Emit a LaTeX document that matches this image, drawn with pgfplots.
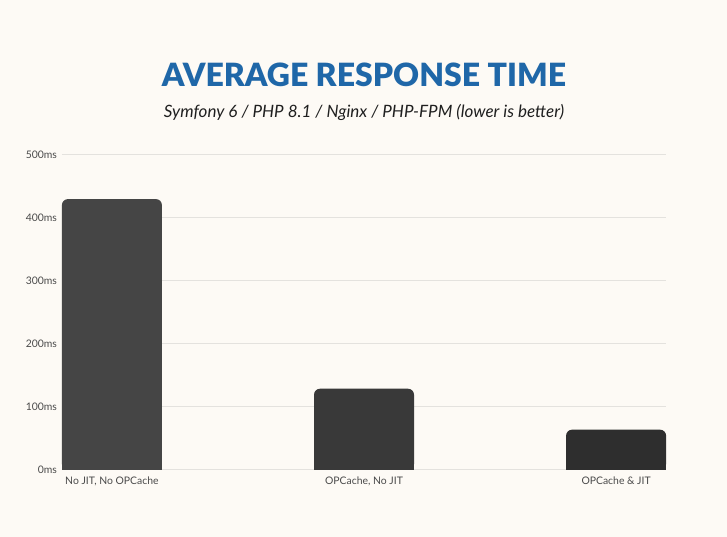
\documentclass[border=0pt]{standalone}
\usepackage{pgfplots}
\pgfplotsset{compat=1.18}
\usepackage{fontspec}
\setmainfont{Lato}
\newfontfamily\titlefont{Lato Black}
\definecolor{bgcream}{HTML}{FDFAF5}
\definecolor{titleblue}{HTML}{1F67A8}
\definecolor{gridgray}{HTML}{E4E2DE}
\definecolor{ticktext}{HTML}{4A4A4A}
\definecolor{barA}{HTML}{454545}
\definecolor{barB}{HTML}{393939}
\definecolor{barC}{HTML}{2E2E2E}

\begin{document}
\begin{tikzpicture}[x=1pt,y=1pt]
  \fill[bgcream] (0,0) rectangle (727,537);
  \node[anchor=base, text=titleblue, font=\fontsize{32}{36}\selectfont\titlefont] at (364,450) {AVERAGE RESPONSE TIME};
  \node[anchor=base, text=black!88, font=\fontsize{17}{20}\selectfont\itshape] at (364,419) {Symfony 6 / PHP 8.1 / Nginx / PHP-FPM (lower is better)};
  \begin{axis}[
    at={(62pt,67pt)}, anchor=south west,
    scale only axis,
    width=604pt, height=315pt,
    xmin=-0.198, xmax=2.198,
    ymin=0, ymax=500,
    ytick={0,100,200,300,400,500},
    yticklabels={0ms,100ms,200ms,300ms,400ms,500ms},
    xtick={0,1,2},
    xticklabels={{No JIT, No OPCache},{OPCache, No JIT},{OPCache \& JIT}},
    axis line style={draw=none},
    major tick length=0pt,
    ymajorgrids=true,
    grid style={gridgray, line width=1pt},
    tick label style={font=\fontsize{10.4}{12}\selectfont, text=ticktext},
    yticklabel style={xshift=-1.5pt},
    xticklabel style={yshift=-3pt},
    ybar, bar width=100pt, bar shift=0pt,
  ]
    \draw[gridgray, line width=1.2pt] (axis cs:-0.198,0) -- (axis cs:2.198,0);
    % rounded bars, then the same bars cut to their lowest part to square the bottom corners
    \addplot[draw=none, fill=barA, rounded corners=6pt] coordinates {(0,430)};
    \addplot[draw=none, fill=barA, y filter/.expression={min(y,20)}] coordinates {(0,430)};
    \addplot[draw=none, fill=barB, rounded corners=6pt] coordinates {(1,129)};
    \addplot[draw=none, fill=barB, y filter/.expression={min(y,20)}] coordinates {(1,129)};
    \addplot[draw=none, fill=barC, rounded corners=6pt] coordinates {(2,64)};
    \addplot[draw=none, fill=barC, y filter/.expression={min(y,20)}] coordinates {(2,64)};
  \end{axis}
\end{tikzpicture}
\end{document}
